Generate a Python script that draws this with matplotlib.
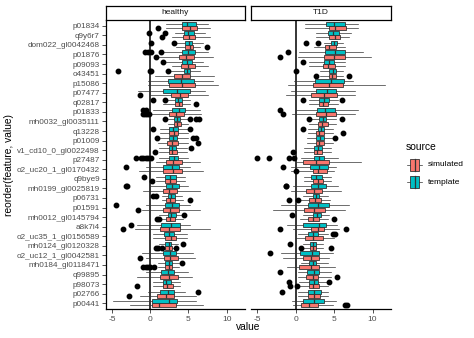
import matplotlib
matplotlib.use("Agg")
import matplotlib.pyplot as plt
from matplotlib.patches import Rectangle

plt.rcParams['font.family'] = ['Liberation Sans', 'DejaVu Sans']

features = ["p01834", "q9y6r7", "dom022_gl0042468", "p01876", "p09093", "o43451",
            "p15086", "p07477", "q02817", "p01833", "mh0032_gl0035111", "q13228",
            "p01009", "v1_cd10_0_gl0022498", "p27487", "o2_uc20_1_gl0170432", "q9bye9",
            "mh0199_gl0025819", "p06731", "p01591", "mh0012_gl0145794", "a8k7i4",
            "o2_uc35_1_gl0156589", "mh0124_gl0120328", "o2_uc12_1_gl0042581",
            "mh0184_gl0118471", "q99895", "p98073", "p02766", "p00441"]
panels = ["healthy", "T1D"]
sources = ["simulated", "template"]
colors = {"simulated": "#F8766D", "template": "#00BFC4"}

# (whisker low, q1, median, q3, whisker high) per feature
healthy_template = [
    (2.0, 4.1, 4.8, 6.0, 7.6), (3.2, 4.4, 5.0, 5.7, 7.1), (3.2, 4.6, 5.1, 5.5, 6.9),
    (1.7, 4.2, 5.0, 5.9, 7.6), (2.1, 4.1, 4.8, 5.5, 6.9), (2.3, 4.4, 4.8, 5.2, 6.5),
    (-0.3, 2.3, 4.0, 5.7, 8.2), (-1.6, 1.7, 3.5, 5.2, 7.1), (1.7, 3.2, 3.6, 4.1, 5.2),
    (0.4, 2.8, 3.7, 4.6, 6.5), (2.3, 3.1, 3.5, 3.9, 5.0), (1.3, 2.5, 3.0, 3.6, 4.9),
    (1.3, 2.5, 3.0, 3.5, 5.0), (1.2, 2.4, 2.9, 3.4, 4.8), (1.2, 2.5, 3.1, 3.6, 5.0),
    (-0.5, 1.7, 2.9, 3.8, 5.2), (0.8, 1.9, 2.6, 3.3, 4.5), (-0.1, 2.0, 2.9, 3.7, 5.0),
    (1.5, 2.3, 2.7, 3.2, 4.1), (-0.5, 1.9, 2.8, 3.8, 5.2), (1.2, 2.3, 2.7, 3.3, 4.3),
    (-1.8, 1.4, 2.7, 3.9, 5.2), (0.4, 1.8, 2.5, 3.1, 4.8), (1.2, 1.9, 2.4, 2.7, 3.6),
    (-1.1, 1.6, 2.6, 3.4, 5.6), (1.0, 1.9, 2.4, 2.9, 3.8), (-0.5, 1.4, 2.3, 3.1, 5.0),
    (0.4, 1.6, 2.1, 2.7, 3.9), (-0.3, 1.3, 2.3, 3.1, 4.6), (-4.9, 0.2, 2.5, 3.5, 6.0)]
healthy_simulated = [
    (2.1, 4.2, 5.2, 6.1, 7.8), (2.8, 4.3, 5.1, 5.9, 7.8), (3.4, 4.6, 5.2, 5.6, 6.5),
    (0.9, 3.7, 4.7, 5.7, 8.2), (2.8, 4.0, 5.0, 5.9, 7.6), (0.6, 3.1, 4.1, 5.2, 8.4),
    (-0.3, 2.5, 4.1, 5.8, 8.9), (0.0, 2.7, 3.9, 5.0, 7.5), (1.7, 3.2, 3.7, 4.2, 5.2),
    (0.0, 2.4, 3.3, 4.4, 6.7), (2.3, 3.1, 3.5, 4.0, 5.0), (1.3, 2.5, 3.1, 3.6, 4.9),
    (1.0, 2.2, 2.9, 3.6, 5.0), (1.2, 2.4, 2.9, 3.5, 4.8), (0.8, 2.0, 3.0, 4.1, 6.5),
    (-1.5, 1.7, 3.0, 4.1, 6.9), (0.8, 1.9, 2.6, 3.3, 4.5), (-0.9, 1.7, 2.5, 3.5, 6.5),
    (1.5, 2.1, 2.6, 3.2, 4.3), (-1.1, 1.6, 2.6, 3.7, 6.5), (1.2, 2.1, 2.6, 3.2, 4.3),
    (-2.0, 1.3, 2.5, 3.9, 7.8), (0.3, 1.9, 2.7, 3.3, 4.8), (1.6, 1.9, 2.4, 2.8, 3.2),
    (-0.5, 1.8, 2.6, 3.6, 5.8), (1.0, 1.9, 2.5, 2.9, 3.8), (-1.8, 1.3, 2.5, 3.6, 5.4),
    (0.4, 1.6, 2.2, 3.0, 3.9), (-1.3, 0.9, 2.1, 3.1, 6.0), (-2.7, 0.2, 1.2, 3.4, 6.9)]
t1d_template = [
    (1.2, 4.0, 5.0, 6.4, 8.1), (2.7, 4.2, 4.8, 5.7, 7.2), (3.7, 4.6, 5.0, 5.4, 6.1),
    (0.5, 3.8, 5.1, 6.4, 8.8), (1.8, 3.7, 4.3, 5.0, 6.4), (3.2, 4.4, 4.8, 5.3, 6.1),
    (-0.2, 2.5, 4.6, 6.3, 7.5), (-0.6, 2.7, 4.1, 5.3, 7.7), (1.8, 3.1, 3.7, 4.3, 5.5),
    (0.0, 2.8, 3.8, 5.1, 8.1), (2.0, 3.0, 3.5, 4.0, 5.3), (1.6, 2.9, 3.3, 3.7, 4.8),
    (1.5, 2.7, 3.2, 3.7, 4.8), (1.1, 2.4, 2.9, 3.4, 4.6), (0.7, 2.4, 3.0, 3.7, 5.5),
    (-0.6, 1.9, 3.1, 4.2, 5.3), (1.1, 2.0, 2.7, 3.4, 4.6), (-0.4, 2.0, 2.9, 4.0, 5.5),
    (0.9, 2.2, 2.7, 3.1, 4.2), (-1.9, 1.6, 2.9, 4.3, 7.0), (0.9, 2.2, 2.8, 3.3, 4.4),
    (-1.1, 0.9, 3.0, 4.0, 5.4), (0.3, 1.6, 2.2, 2.9, 4.2), (0.9, 1.9, 2.3, 2.7, 3.5),
    (-1.9, 0.6, 2.1, 3.1, 4.8), (0.7, 1.8, 2.2, 2.7, 4.2), (0.3, 1.5, 2.4, 3.1, 4.6),
    (0.5, 1.8, 2.4, 2.9, 4.1), (0.3, 1.6, 2.4, 3.3, 4.2), (-0.5, 0.9, 2.4, 3.7, 5.3)]
t1d_simulated = [
    (1.2, 4.4, 5.1, 6.6, 8.1), (2.7, 4.4, 5.1, 5.8, 7.0), (2.4, 3.8, 4.4, 5.3, 6.4),
    (0.3, 3.7, 5.0, 6.4, 9.8), (1.8, 3.6, 4.2, 5.1, 6.4), (3.2, 4.3, 4.7, 5.2, 6.1),
    (-1.0, 2.2, 4.4, 6.1, 11.6), (-1.3, 2.0, 3.7, 5.4, 7.7), (1.8, 3.0, 3.6, 4.2, 5.5),
    (-0.5, 2.7, 4.0, 5.3, 7.7), (1.8, 2.9, 3.4, 4.2, 5.3), (1.6, 2.7, 3.1, 3.7, 4.8),
    (1.5, 2.7, 3.1, 3.7, 4.8), (1.1, 2.4, 2.8, 3.4, 4.6), (0.0, 0.9, 2.7, 4.4, 8.5),
    (-0.6, 2.2, 2.9, 4.1, 5.0), (1.1, 2.2, 2.9, 3.5, 4.6), (-0.6, 1.4, 2.4, 3.4, 5.9),
    (0.6, 1.8, 2.5, 3.3, 4.5), (-3.0, 1.1, 2.4, 3.8, 6.4), (0.6, 1.6, 2.2, 3.0, 4.2),
    (-0.4, 2.0, 2.9, 3.7, 5.7), (0.0, 1.2, 2.2, 3.5, 5.0), (0.9, 1.9, 2.3, 2.7, 3.5),
    (-1.7, 1.0, 2.0, 3.1, 4.4), (-1.1, 0.5, 2.0, 3.1, 5.1), (0.3, 1.4, 2.2, 2.9, 4.6),
    (0.5, 1.7, 2.3, 3.0, 4.2), (0.3, 1.6, 2.4, 3.2, 4.2), (-0.4, 0.7, 1.8, 2.9, 4.8)]

# outliers: feature index -> values
healthy_template_out = {1: [-0.2, 1.9], 2: [0.1, 3.1], 3: [-0.7, -0.3, 0.1, 1.4], 4: [1.6],
                        5: [-4.2, -0.1, 0.1, 2.3], 8: [0.3, 1.9], 9: [-1.0, -0.5],
                        10: [1.9, 5.2, 6.0, 6.4], 11: [0.4, 5.2], 12: [0.9, 5.6, 6.0],
                        13: [5.3], 14: [-1.9, -1.2, -0.9, -0.6, -0.3, 0.1], 15: [-3.2],
                        16: [-0.8], 17: [-3.2, -3.0], 18: [0.4, 0.8], 19: [-4.5],
                        20: [4.4], 21: [-2.5], 23: [4.3], 25: [4.2], 28: [6.3]}
healthy_simulated_out = {0: [1.0], 1: [1.5], 2: [7.4], 3: [0.7], 7: [-1.3], 8: [6.0],
                         9: [-0.9, -0.7, -0.4, -0.2], 12: [6.2], 13: [0.6], 16: [0.2],
                         18: [5.2], 19: [-1.6], 20: [0.9, 1.1], 21: [-3.6],
                         23: [0.8, 1.0, 1.5, 3.4], 24: [-1.4],
                         25: [-0.9, -0.6, -0.3, 0.0, 0.5], 27: [-1.8], 28: [-2.8]}
t1d_template_out = {2: [1.4, 2.9], 3: [-1.0], 4: [0.9], 5: [0.0], 8: [0.9, 6.0], 9: [-2.0],
                    10: [1.7, 6.0], 11: [0.9], 12: [5.1], 14: [-5.0, -3.4, -0.8, -0.2],
                    15: [-1.7], 17: [-1.3, -1.2], 20: [-0.5], 22: [4.8, 5.1], 23: [-0.7],
                    24: [-3.3], 26: [-2.0], 27: [-0.8, 4.4], 28: [-1.8]}
t1d_simulated_out = {3: [-2.0], 5: [2.7, 6.9], 9: [-1.7], 11: [6.2], 13: [-0.3], 15: [0.0],
                     18: [-0.8, 0.3], 20: [5.0], 21: [-2.0, 6.6], 23: [0.7, 4.6],
                     26: [5.4], 27: [-0.7, 0.2], 29: [6.4, 6.7]}

x_ticks = [-5, 0, 5, 10]

data = {
    ("healthy", "template"): (healthy_template, healthy_template_out),
    ("healthy", "simulated"): (healthy_simulated, healthy_simulated_out),
    ("T1D", "template"): (t1d_template, t1d_template_out),
    ("T1D", "simulated"): (t1d_simulated, t1d_simulated_out),
}

W, H = 474, 338
fig = plt.figure(figsize=(W / 100, H / 100), dpi=100)

def fx(px):
    return px / W

def fy(py):
    return 1 - py / H

panel_px = {"healthy": (106, 245), "T1D": (251, 391)}
top_px, bot_px = 20, 309
edge = "#333333"
n = len(features)

for p_i, panel in enumerate(panels):
    x0, x1 = panel_px[panel]
    ax = fig.add_axes([fx(x0), fy(bot_px), fx(x1 - x0), (bot_px - top_px) / H])
    ax.axvline(0, color="black", lw=1.1, zorder=1)
    for src in sources:
        stats_list, outs = data[(panel, src)]
        offset = 0.225 if src == "template" else -0.225
        stats, pos = [], []
        for i, (wl, q1, med, q3, wh) in enumerate(stats_list):
            stats.append(dict(whislo=wl, q1=q1, med=med, q3=q3, whishi=wh,
                              fliers=outs.get(i, [])))
            pos.append(n - 1 - i + offset)
        ax.bxp(stats, positions=pos, widths=0.42, orientation="horizontal",
               patch_artist=True, showcaps=False,
               boxprops=dict(facecolor=colors[src], edgecolor=edge, lw=0.6),
               medianprops=dict(color=edge, lw=0.9),
               whiskerprops=dict(color=edge, lw=0.5),
               flierprops=dict(marker="o", markerfacecolor="black",
                               markeredgecolor="black", markersize=3.2, lw=0),
               manage_ticks=False, zorder=2)
    ax.set_xlim(-5.8, 12.4)
    ax.set_ylim(-0.6, n - 0.4)
    ax.set_xticks(x_ticks)
    ax.set_xticklabels([str(t) for t in x_ticks])
    ax.tick_params(axis="x", length=3, width=0.6, color=edge, labelsize=6,
                   labelcolor="#4D4D4D", pad=2)
    for s in ["top", "right"]:
        ax.spines[s].set_visible(False)
    ax.spines["bottom"].set_linewidth(0.9)
    if p_i == 0:
        ax.set_yticks(range(n))
        ax.set_yticklabels(features[::-1])
        ax.tick_params(axis="y", length=3, width=0.6, color=edge, labelsize=5.9,
                       labelcolor="#4D4D4D", pad=1.5)
        ax.spines["left"].set_linewidth(0.9)
    else:
        ax.set_yticks([])
        ax.spines["left"].set_visible(False)
    ax.set_facecolor("none")
    # strip
    sax = fig.add_axes([fx(x0), fy(top_px), fx(x1 - x0), 14.5 / H])
    sax.set_xticks([])
    sax.set_yticks([])
    for s in sax.spines.values():
        s.set_linewidth(0.9)
        s.set_color("black")
    sax.text(0.5, 0.5, panel, ha="center", va="center", fontsize=6, color="#1A1A1A",
             transform=sax.transAxes)

fig.text(fx(248), fy(327), "value", ha="center", va="center", fontsize=7.4)
fig.text(fx(9), fy(165), "reorder(feature, value)", ha="center", va="center",
         rotation=90, fontsize=7.4)

# legend
fig.text(fx(406), fy(147), "source", ha="left", va="center", fontsize=7.4)
for k, src in enumerate(sources):
    ky0 = 156.5 + 17 * k
    kax = fig.add_axes([fx(405.5), fy(ky0 + 17), fx(18), 17 / H])
    kax.set_xlim(0, 1)
    kax.set_ylim(0, 1)
    kax.axis("off")
    kax.add_patch(Rectangle((0.25, 0.125), 0.5, 0.75, facecolor=colors[src],
                            edgecolor=edge, lw=0.6))
    kax.plot([0.5, 0.5], [0.125, 0.875], color=edge, lw=0.9)
    kax.plot([0.1, 0.25], [0.5, 0.5], color=edge, lw=0.5)
    kax.plot([0.75, 0.9], [0.5, 0.5], color=edge, lw=0.5)
    fig.text(fx(428), fy(ky0 + 8.5), src, ha="left", va="center", fontsize=6)

fig.savefig("out.png", dpi=100)
